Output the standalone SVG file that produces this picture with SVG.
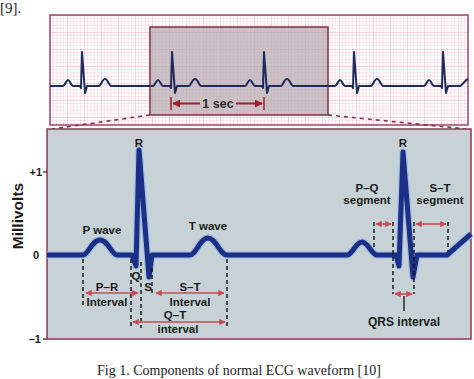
<svg xmlns="http://www.w3.org/2000/svg" width="474" height="379" viewBox="0 0 474 379">
<style>
.lbl{font-family:"Liberation Sans",Arial,sans-serif;font-weight:bold;font-size:11.5px;fill:#1a1a1a;text-anchor:middle}
.ax{font-family:"Liberation Sans",Arial,sans-serif;font-weight:bold;font-size:11px;fill:#1a1a1a;text-anchor:end}
.dash{stroke:#111;stroke-width:1.4;stroke-dasharray:4 3;fill:none}
.arr{stroke:#cc4a55;stroke-width:1.6;fill:none;marker-start:url(#ah);marker-end:url(#ah)}
.conn{stroke:#8a2f48;stroke-width:1.6;stroke-dasharray:4 4;fill:none}
</style>
<defs>
<pattern id="grid" x="50" y="15" width="17" height="17" patternUnits="userSpaceOnUse">
<path d="M3.4,0V17M6.8,0V17M10.2,0V17M13.6,0V17M0,3.4H17M0,6.8H17M0,10.2H17M0,13.6H17" stroke="#f5cdd7" stroke-width="0.5"/>
<path d="M0,0V17M0,0H17" stroke="#e29fb2" stroke-width="0.8"/>
</pattern>
<marker id="ah" viewBox="0 0 10 10" refX="9" refY="5" markerWidth="4" markerHeight="4" orient="auto-start-reverse">
<path d="M0,0L10,5L0,10z" fill="#cc4a55"/>
</marker>
<marker id="ahd" viewBox="0 0 10 10" refX="9" refY="5" markerWidth="4" markerHeight="4" orient="auto-start-reverse">
<path d="M0,0L10,5L0,10z" fill="#a01e2c"/>
</marker>
</defs>
<rect width="474" height="379" fill="#fff"/>
<text x="0" y="13" font-family="Liberation Serif,serif" font-size="15" fill="#222">[9].</text>

<g id="strip">
<rect x="50" y="15" width="418" height="110" fill="#fff"/>
<rect x="50" y="15" width="418" height="110" fill="url(#grid)"/>
<rect x="150" y="27" width="178" height="88" fill="#b8aeb3" fill-opacity="0.75" stroke="#7d2f45" stroke-width="1.5"/>
<rect x="50" y="15" width="418" height="110" fill="none" stroke="#a04565" stroke-width="1.5"/>
<path d="M50,86 L63,86 C65,86 66,80 68,80 C70,80 71,86 73,86 L80,86 L81,88 L82,52 L85,93 L87,86 L99,86 C101,86 102,79 105,79 C108,79 109,86 111,86 L153,86 C155,86 156,80 158,80 C160,80 161,86 163,86 L170,86 L171,88 L172,52 L175,93 L177,86 L189,86 C191,86 192,79 195,79 C198,79 199,86 201,86 L245,86 C247,86 248,80 250,80 C252,80 253,86 255,86 L262,86 L263,88 L264,52 L267,93 L269,86 L281,86 C283,86 284,79 287,79 C290,79 291,86 293,86 L335,86 C337,86 338,80 340,80 C342,80 343,86 345,86 L352,86 L353,88 L354,52 L357,93 L359,86 L371,86 C373,86 374,79 377,79 C380,79 381,86 383,86 L424,86 C426,86 427,80 429,80 C431,80 432,86 434,86 L441,86 L442,88 L443,52 L446,93 L448,86 L460,86 C462,86 465,80 468,79" fill="none" stroke="#1c2a5c" stroke-width="2" stroke-linejoin="round"/>
<g id="onesec">
<line x1="171" y1="97" x2="171" y2="110" stroke="#a01e2c" stroke-width="1.5"/>
<line x1="264" y1="97" x2="264" y2="110" stroke="#a01e2c" stroke-width="1.5"/>
<line x1="200" y1="103.5" x2="173" y2="103.5" stroke="#a01e2c" stroke-width="2" marker-end="url(#ahd)"/>
<line x1="236" y1="103.5" x2="262" y2="103.5" stroke="#a01e2c" stroke-width="2" marker-end="url(#ahd)"/>
<text x="218" y="108" class="lbl" style="font-size:12.5px;fill:#2a2a2a">1 sec</text>
</g>
</g>

<g id="connectors">
<line x1="150" y1="115" x2="52" y2="129" class="conn"/>
<line x1="328" y1="115" x2="466" y2="129" class="conn"/>
</g>

<g id="panel">
<rect x="47" y="129" width="424" height="210" fill="#c6d2d5" stroke="#8a3a50" stroke-width="1.5"/>
<line x1="43" y1="172" x2="47" y2="172" stroke="#222" stroke-width="1.2"/>
<line x1="43" y1="339" x2="47" y2="339" stroke="#222" stroke-width="1.2"/>
<text x="42" y="176" class="ax">+1</text>
<text x="39" y="259" class="ax">0</text>
<text x="41" y="343" class="ax">–1</text>
<text transform="translate(23,216) rotate(-90)" class="lbl" style="font-size:15.5px">Millivolts</text>
</g>

<g id="waveform">
<path d="M47,255 L83,255 C88,255 92,240 100,240 C108,240 112,255 117,255 L132,255 L136,266 L139,150 L149,277 L152,255 L190,255 C196,255 200,238 208,238 C216,238 220,255 227,255 L347,255 C352,255 356,242 362,242 C368,242 372,255 377,255 L396,255 L399,266 L403,152 L413,277 L417,255 L447,255 L471,234" fill="none" stroke="#a3bfe0" stroke-width="7.5" stroke-linejoin="round"/>
<path d="M47,255 L83,255 C88,255 92,240 100,240 C108,240 112,255 117,255 L132,255 L136,266 L139,150 L149,277 L152,255 L190,255 C196,255 200,238 208,238 C216,238 220,255 227,255 L347,255 C352,255 356,242 362,242 C368,242 372,255 377,255 L396,255 L399,266 L403,152 L413,277 L417,255 L447,255 L471,234" fill="none" stroke="#1c2f86" stroke-width="5" stroke-linejoin="round"/>
</g>

<g id="labels-left">
<text x="139" y="147" class="lbl">R</text>
<text x="102" y="234" class="lbl">P wave</text>
<text x="208" y="230" class="lbl">T wave</text>
<text x="136" y="280" class="lbl">Q</text>
<text x="148" y="291" class="lbl">S</text>
<line x1="83" y1="259" x2="83" y2="306" class="dash"/>
<line x1="131" y1="259" x2="131" y2="328" class="dash"/>
<line x1="141" y1="262" x2="141" y2="328" class="dash"/>
<line x1="152" y1="268" x2="152" y2="296" class="dash"/>
<line x1="227" y1="259" x2="227" y2="328" class="dash"/>
<line x1="86" y1="293" x2="138" y2="293" class="arr"/>
<line x1="156" y1="293" x2="224" y2="293" class="arr"/>
<line x1="133" y1="322" x2="225" y2="322" class="arr"/>
<text x="107" y="291" class="lbl">P–R</text>
<text x="107" y="306" class="lbl">Interval</text>
<text x="190" y="291" class="lbl">S–T</text>
<text x="190" y="306" class="lbl">Interval</text>
<text x="175" y="319" class="lbl">Q–T</text>
<text x="178" y="333" class="lbl">interval</text>
</g>

<g id="labels-right">
<text x="403" y="147" class="lbl">R</text>
<text x="367" y="192" class="lbl">P–Q</text>
<text x="367" y="204" class="lbl">segment</text>
<text x="440" y="192" class="lbl">S–T</text>
<text x="440" y="204" class="lbl">segment</text>
<line x1="374" y1="222" x2="374" y2="248" class="dash"/>
<line x1="393" y1="222" x2="393" y2="294" class="dash"/>
<line x1="414" y1="222" x2="414" y2="294" class="dash"/>
<line x1="448" y1="222" x2="448" y2="251" class="dash"/>
<line x1="376" y1="224" x2="391" y2="224" class="arr"/>
<line x1="416" y1="224" x2="446" y2="224" class="arr"/>
<line x1="395" y1="294" x2="412" y2="294" class="arr"/>
<line x1="404" y1="296" x2="404" y2="311" stroke="#111" stroke-width="1.3"/>
<text x="404" y="326" class="lbl" style="font-size:12px">QRS interval</text>
</g>

<text x="239" y="375" font-family="Liberation Serif,serif" font-size="14" fill="#222" text-anchor="middle">Fig 1. Components of normal ECG waveform [10]</text>
</svg>
